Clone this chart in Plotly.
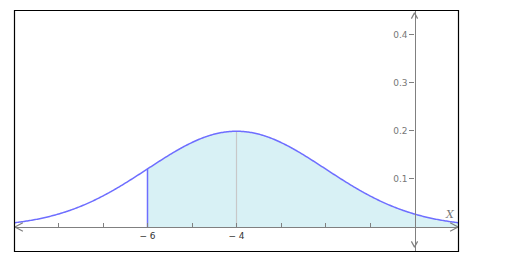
import numpy as np
import plotly.graph_objects as go

# ---- data ----
mean = -4.0
sd = 2.0
shade_from = -6.0
x_range = [-9.0, 1.0]
y_range = [-0.05, 0.452]
x_tick_vals = [-8, -7, -6, -5, -4, -3, -2, -1]
x_tick_text = ["", "", "\u2212 6", "", "\u2212 4", "", "", ""]
y_tick_vals = [0.1, 0.2, 0.3, 0.4]
y_tick_text = ["0.1", "0.2", "0.3", "0.4"]

xs = np.linspace(x_range[0], x_range[1], 400)
pdf = lambda v: np.exp(-0.5 * ((v - mean) / sd) ** 2) / (sd * np.sqrt(2 * np.pi))
ys = pdf(xs)
xs_fill = np.linspace(shade_from, x_range[1], 300)
ys_fill = pdf(xs_fill)

curve_col = "rgb(110,110,255)"
axis_col = "#808080"

fig = go.Figure()
# shaded area
fig.add_trace(go.Scatter(
    x=np.concatenate([[shade_from], xs_fill, [x_range[1]]]),
    y=np.concatenate([[0], ys_fill, [0]]),
    fill="toself", fillcolor="rgb(216,241,245)", line=dict(width=0, simplify=False),
    mode="lines", hoverinfo="skip"))
# mean line
fig.add_trace(go.Scatter(x=[mean, mean], y=[0, pdf(mean)], mode="lines",
                         line=dict(color="#c8c8c8", width=1.2)))
# boundary line
fig.add_trace(go.Scatter(x=[shade_from, shade_from], y=[0, pdf(shade_from)], mode="lines",
                         line=dict(color=curve_col, width=1.5)))
# curve
fig.add_trace(go.Scatter(x=xs, y=ys, mode="lines",
                         line=dict(color=curve_col, width=1.5, simplify=False)))

# arrow heads (decoration)
dx = 0.2
dy = 0.009
ax_ = 0.07
ay_ = 0.012
arrows = [
    ([x_range[0] + dx, x_range[0] + 0.02, x_range[0] + dx], [dy, 0, -dy]),
    ([x_range[1] - dx, x_range[1] - 0.02, x_range[1] - dx], [dy, 0, -dy]),
    ([-ax_, 0, ax_], [y_range[1] - 0.006 - ay_, y_range[1] - 0.006, y_range[1] - 0.006 - ay_]),
    ([-ax_, 0, ax_], [y_range[0] + 0.008 + ay_, y_range[0] + 0.008, y_range[0] + 0.008 + ay_]),
]
for axx, ayy in arrows:
    fig.add_trace(go.Scatter(x=axx, y=ayy, mode="lines", line=dict(color=axis_col, width=1.2)))

fig.add_annotation(x=0.8, y=0.0085, text="<i>X</i>", showarrow=False,
                   font=dict(family="DejaVu Serif", size=11, color="#777"),
                   xanchor="center", yanchor="bottom")

pw, ph = 445.0, 241.0
fig.update_layout(
    width=522, height=264,
    margin=dict(l=14, r=63, t=10, b=13),
    paper_bgcolor="white", plot_bgcolor="white",
    showlegend=False,
    xaxis=dict(range=x_range, showgrid=False, zeroline=False, anchor="free",
               position=(0 - y_range[0]) / (y_range[1] - y_range[0]),
               showline=True, linecolor=axis_col, linewidth=1.2,
               ticks="inside", ticklen=4, tickcolor=axis_col, tickwidth=1,
               tickvals=x_tick_vals, ticktext=x_tick_text,
               tickfont=dict(family="DejaVu Sans", size=9, color="#333")),
    yaxis=dict(range=y_range, showgrid=False, zeroline=False, anchor="free",
               position=(0 - x_range[0]) / (x_range[1] - x_range[0]),
               showline=True, linecolor=axis_col, linewidth=1.2,
               ticks="outside", ticklen=5, tickcolor=axis_col, tickwidth=1,
               tickvals=y_tick_vals, ticktext=y_tick_text,
               tickfont=dict(family="DejaVu Sans", size=9, color="#777")),
    shapes=[dict(type="rect", xref="paper", yref="paper",
                 x0=0.5 / pw, x1=1 - 0.5 / pw, y0=-0.5 / ph, y1=1 - 0.5 / ph,
                 line=dict(color="black", width=1.2), layer="above")],
)

fig.write_html("out.html")
